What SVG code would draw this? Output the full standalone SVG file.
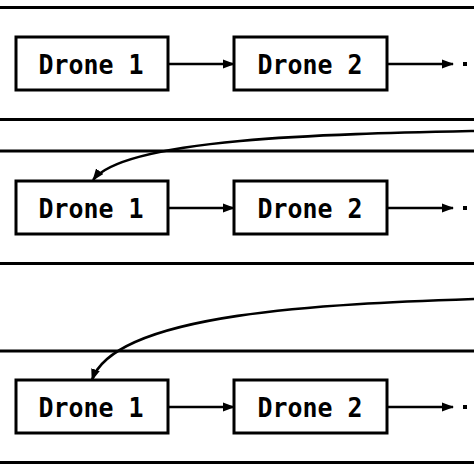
<svg xmlns="http://www.w3.org/2000/svg" width="474" height="474" viewBox="0 0 474 474">
<defs>
<marker id="ah" markerWidth="12" markerHeight="10" refX="11" refY="5" orient="auto" markerUnits="userSpaceOnUse">
<path d="M0,0.5 L12,5 L0,9.5 Z" fill="#000"/>
</marker>
<style>
.sep{stroke:#000;stroke-width:2.8;fill:none}
.box{fill:#fff;stroke:#000;stroke-width:3}
.lbl{font-family:"DejaVu Sans Mono","Noto Sans CJK SC",monospace;font-size:27px;font-weight:bold;fill:#000;text-anchor:middle}
.con{stroke:#000;stroke-width:2.6;fill:none;marker-end:url(#ah)}
.dot{fill:#000}
</style>
</defs>
<rect width="474" height="474" fill="#fff"/>
<g id="separators">
<line class="sep" x1="0" y1="7.5" x2="474" y2="7.5"/>
<line class="sep" x1="0" y1="119.5" x2="474" y2="119.5"/>
<line class="sep" x1="0" y1="151" x2="474" y2="151"/>
<line class="sep" x1="0" y1="263.5" x2="474" y2="263.5"/>
<line class="sep" x1="0" y1="351" x2="474" y2="351"/>
<line class="sep" x1="0" y1="462.5" x2="474" y2="462.5"/>
</g>
<g id="connectors">
<line class="con" x1="168" y1="64" x2="234" y2="64"/>
<line class="con" x1="387" y1="64" x2="453" y2="64"/>
<line class="con" x1="168" y1="208" x2="234" y2="208"/>
<line class="con" x1="387" y1="208" x2="453" y2="208"/>
<line class="con" x1="168" y1="407" x2="234" y2="407"/>
<line class="con" x1="387" y1="407" x2="453" y2="407"/>
<path class="con" d="M474,131 C330,134 125,138 93,180"/>
<path class="con" d="M474,299 C330,304 115,312 92,380"/>
<rect class="dot" x="463" y="62" width="4" height="4"/>
<rect class="dot" x="463" y="206" width="4" height="4"/>
<rect class="dot" x="463" y="405" width="4" height="4"/>
</g>
<g id="r1-drone1"><rect class="box" x="16" y="37" width="152" height="53"/><text class="lbl" x="91" y="74" textLength="105" lengthAdjust="spacingAndGlyphs">Drone 1</text></g>
<g id="r1-drone2"><rect class="box" x="234" y="37" width="153" height="53"/><text class="lbl" x="310" y="74" textLength="105" lengthAdjust="spacingAndGlyphs">Drone 2</text></g>
<g id="r2-drone1"><rect class="box" x="16" y="181" width="152" height="53"/><text class="lbl" x="91" y="218" textLength="105" lengthAdjust="spacingAndGlyphs">Drone 1</text></g>
<g id="r2-drone2"><rect class="box" x="234" y="181" width="153" height="53"/><text class="lbl" x="310" y="218" textLength="105" lengthAdjust="spacingAndGlyphs">Drone 2</text></g>
<g id="r3-drone1"><rect class="box" x="16" y="380" width="152" height="53"/><text class="lbl" x="91" y="417" textLength="105" lengthAdjust="spacingAndGlyphs">Drone 1</text></g>
<g id="r3-drone2"><rect class="box" x="234" y="380" width="153" height="53"/><text class="lbl" x="310" y="417" textLength="105" lengthAdjust="spacingAndGlyphs">Drone 2</text></g>
</svg>
